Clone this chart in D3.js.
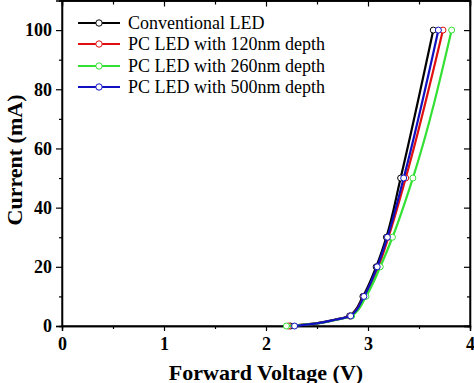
<!DOCTYPE html>
<html>
<head>
<meta charset="utf-8">
<script src="https://cdn.jsdelivr.net/npm/d3@7/dist/d3.min.js"></script>
<style>
  html, body { margin: 0; padding: 0; background: #fff; }
  svg { display: block; }
</style>
</head>
<body>
<svg id="chart" width="474" height="383"></svg>
<script>
// ---- data ----
const seriesNames = ["Conventional LED", "PC LED with 120nm depth", "PC LED with 260nm depth", "PC LED with 500nm depth"];
const seriesColors = ["#000000", "#e01010", "#33e033", "#1010c0"];
const currents = [0, 0.9, 2.1, 3.4, 10, 20, 30, 50, 100];      // mA
const markerCurrents = [0, 3.4, 10, 20, 30, 50, 100];          // points drawn with circles
const voltConventional = [2.24, 2.49, 2.67, 2.82, 2.95, 3.08, 3.18, 3.32, 3.64];
const volt120 = [2.22, 2.50, 2.68, 2.83, 2.96, 3.10, 3.20, 3.37, 3.735];
const volt260 = [2.20, 2.51, 2.69, 2.84, 2.98, 3.12, 3.24, 3.44, 3.82];
const volt500 = [2.28, 2.50, 2.68, 2.83, 2.96, 3.09, 3.19, 3.35, 3.69];
const xTicks = [0, 1, 2, 3, 4];
const yTicks = [0, 20, 40, 60, 80, 100];

const seriesVolts = [voltConventional, volt120, volt260, volt500];

const svg = d3.select("#chart");
const x = d3.scaleLinear().domain([0, 4]).range([62, 470]);
const y = d3.scaleLinear().domain([0, 110]).range([326, 0.5]);

const fontSerif = "'Liberation Serif', 'Times New Roman', serif";

// frame
svg.append("rect")
  .attr("x", x(0)).attr("y", y(110))
  .attr("width", x(4) - x(0)).attr("height", y(0) - y(110))
  .attr("fill", "none").attr("stroke", "#000").attr("stroke-width", 1.3);

// axes
const xMinor = d3.range(0.5, 4, 1);
const yMinor = d3.range(10, 110, 20);

const gx = svg.append("g").attr("transform", `translate(0,${y(0)})`)
  .call(d3.axisBottom(x).tickValues(xTicks).tickFormat(d3.format("d")).tickSize(5).tickPadding(6));
svg.append("g").attr("transform", `translate(0,${y(0)})`)
  .call(d3.axisBottom(x).tickValues(xMinor).tickFormat("").tickSize(3));
const gy = svg.append("g").attr("transform", `translate(${x(0)},0)`)
  .call(d3.axisLeft(y).tickValues(yTicks).tickFormat(d3.format("d")).tickSize(6).tickPadding(4));
svg.append("g").attr("transform", `translate(${x(0)},0)`)
  .call(d3.axisLeft(y).tickValues(yMinor).tickFormat("").tickSize(3));
// mirrored inward ticks top / right
svg.append("g").attr("transform", `translate(0,${y(110)})`)
  .call(d3.axisBottom(x).tickValues(xTicks).tickFormat("").tickSize(6));
svg.append("g").attr("transform", `translate(0,${y(110)})`)
  .call(d3.axisBottom(x).tickValues(xMinor).tickFormat("").tickSize(4));
svg.append("g").attr("transform", `translate(${x(4)},0)`)
  .call(d3.axisLeft(y).tickValues(yTicks).tickFormat("").tickSize(6));
svg.append("g").attr("transform", `translate(${x(4)},0)`)
  .call(d3.axisLeft(y).tickValues(yMinor).tickFormat("").tickSize(3));

svg.selectAll(".domain").attr("stroke", "#000").attr("stroke-width", 1.3);
svg.selectAll(".tick line").attr("stroke", "#000").attr("stroke-width", 1.2);
svg.selectAll(".tick text")
  .attr("font-family", fontSerif).attr("font-weight", "bold")
  .attr("font-size", 18).attr("fill", "#000");

// axis titles
svg.append("text")
  .attr("x", 266).attr("y", 380)
  .attr("text-anchor", "middle")
  .attr("font-family", fontSerif).attr("font-weight", "bold").attr("font-size", 22)
  .text("Forward Voltage (V)");
svg.append("text")
  .attr("transform", "translate(22,160) rotate(-90)")
  .attr("text-anchor", "middle")
  .attr("font-family", fontSerif).attr("font-weight", "bold").attr("font-size", 22)
  .text("Current (mA)");

// curves
const line = d3.line()
  .x(d => x(d[0])).y(d => y(d[1]))
  .curve(d3.curveMonotoneY);

const clip = svg.append("clipPath").attr("id", "plotclip")
  .append("rect").attr("x", x(0)).attr("y", y(110))
  .attr("width", x(4) - x(0)).attr("height", y(0) - y(110) + 2);

seriesVolts.forEach((volts, i) => {
  const pts = volts.map((v, k) => [v, currents[k]]);
  svg.append("path")
    .attr("d", line(pts))
    .attr("fill", "none")
    .attr("stroke", seriesColors[i])
    .attr("stroke-width", 2.2);
  const mpts = pts.filter(p => markerCurrents.includes(p[1]));
  svg.selectAll(null).data(mpts).enter().append("circle")
    .attr("cx", d => x(d[0])).attr("cy", d => y(d[1]))
    .attr("r", 3)
    .attr("fill", "#fff")
    .attr("stroke", seriesColors[i])
    .attr("stroke-width", 1);
});

// legend
const legendY = [23, 44, 66, 87];
seriesNames.forEach((name, i) => {
  const g = svg.append("g");
  g.append("line")
    .attr("x1", 78).attr("x2", 120)
    .attr("y1", legendY[i]).attr("y2", legendY[i])
    .attr("stroke", seriesColors[i]).attr("stroke-width", 2.2);
  g.append("circle")
    .attr("cx", 99).attr("cy", legendY[i]).attr("r", 3.2)
    .attr("fill", "#fff").attr("stroke", seriesColors[i]).attr("stroke-width", 1);
  g.append("text")
    .attr("x", 128).attr("y", legendY[i] + 6)
    .attr("font-family", fontSerif).attr("font-size", 18)
    .attr("fill", "#000")
    .text(name);
});
</script>
</body>
</html>
